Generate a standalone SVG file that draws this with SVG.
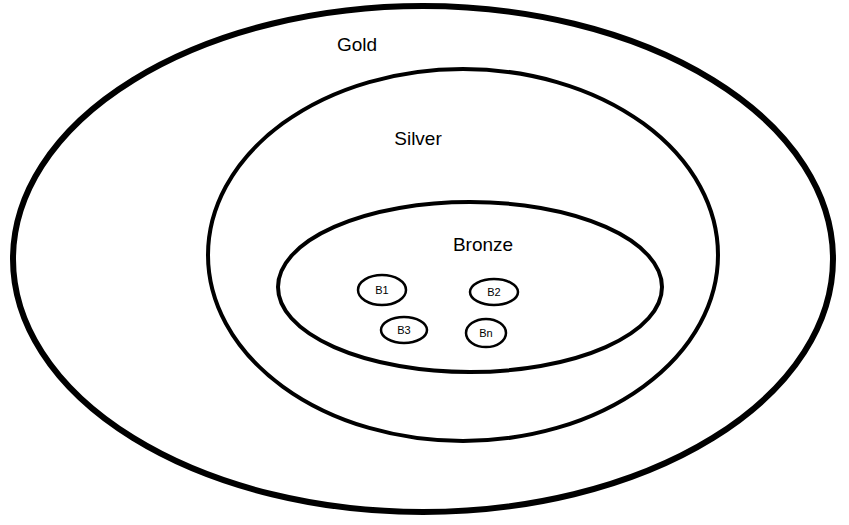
<svg xmlns="http://www.w3.org/2000/svg" width="849" height="525" viewBox="0 0 849 525">
<style>
.e{fill:none;stroke:#000}
.t{font-family:"Liberation Sans",Arial,sans-serif;font-size:19px;fill:#000;text-anchor:middle}
.s{font-family:"Liberation Sans",Arial,sans-serif;font-size:11px;fill:#000;text-anchor:middle}
</style>
<rect width="849" height="525" fill="#fff"/>
<g id="gold"><ellipse class="e" cx="423" cy="259" rx="410" ry="253" stroke-width="6"/><text class="t" x="357" y="51">Gold</text></g>
<g id="silver"><ellipse class="e" cx="463" cy="255" rx="255" ry="186" stroke-width="4"/><text class="t" x="418" y="145">Silver</text></g>
<g id="bronze"><ellipse class="e" cx="470" cy="287" rx="192" ry="85" stroke-width="4"/><text class="t" x="483" y="251">Bronze</text></g>
<g id="b1"><ellipse class="e" cx="382" cy="290" rx="24" ry="15" stroke-width="2.5"/><text class="s" x="382" y="294">B1</text></g>
<g id="b2"><ellipse class="e" cx="494" cy="292" rx="24" ry="13" stroke-width="2.5"/><text class="s" x="494" y="296">B2</text></g>
<g id="b3"><ellipse class="e" cx="404" cy="330" rx="23" ry="13" stroke-width="2.5"/><text class="s" x="404" y="334">B3</text></g>
<g id="bn"><ellipse class="e" cx="486" cy="333" rx="20" ry="14" stroke-width="2.5"/><text class="s" x="486" y="337">Bn</text></g>
<g id="connectors"/>
</svg>
